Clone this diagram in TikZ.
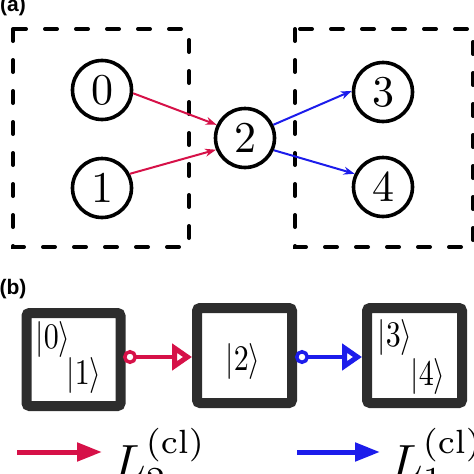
\documentclass[tikz,border=0pt]{standalone}
\usepackage{fontspec}
\usepackage{amsmath}
\usepackage{graphicx}
\newfontfamily\labelfont{Liberation Sans}
\usetikzlibrary{arrows.meta}
\definecolor{myred}{RGB}{214,17,72}
\definecolor{myblue}{RGB}{28,28,235}
\definecolor{boxgray}{RGB}{45,45,45}
\tikzset{
  statecircle/.style={circle,draw,line width=3.6pt,minimum size=59pt,inner sep=0pt},
  dashbox/.style={draw,line width=4pt,line cap=round,dash pattern=on 12pt off 19pt},
  statebox/.style={draw=boxgray,line width=10pt,rounded corners=3pt,inner sep=0pt},
  kettext/.style={inner sep=0pt},
  panellabel/.style={inner sep=0pt,font=\labelfont\bfseries\fontsize{21}{21}\selectfont},
  redarrow/.style={draw=myred,line width=2pt,-{Stealth[length=11pt,width=8pt]}},
  bluearrow/.style={draw=myblue,line width=2pt,-{Stealth[length=11pt,width=8pt]}},
  legendtext/.style={inner sep=0pt,anchor=base west},
  linkred/.style={draw=myred,line width=3.5pt,{Circle[open,length=14pt,line width=3.5pt]}-{Triangle[open,length=20pt,width=26pt,line width=5pt]}},
  linkblue/.style={draw=myblue,line width=3.5pt,{Circle[open,length=14pt,line width=3.5pt]}-{Triangle[open,length=20pt,width=26pt,line width=5pt]}}
}
\newcommand{\bigdigit}[1]{\scalebox{4.4}{$#1$}}
\newcommand{\myket}[1]{\scalebox{3.0}[3.6]{$|#1\rangle$}}
\newcommand{\legendL}[1]{\scalebox{4.8}{$L_{#1}^{(\mathrm{cl})}$}}
\begin{document}
\begin{tikzpicture}[x=1pt,y=-1pt]
\useasboundingbox (0,0) rectangle (474,474);
% panel (a)
\node[panellabel] (la) at (13,6) {(a)};
\draw[dashbox] (13,29) rectangle (189,247);
\draw[dashbox] (295,29) rectangle (473,247);
\node[statecircle] (c0) at (102,90) {\bigdigit{0}};
\node[statecircle] (c1) at (102,188) {\bigdigit{1}};
\node[statecircle] (c2) at (245,138) {\bigdigit{2}};
\node[statecircle] (c3) at (383,92) {\bigdigit{3}};
\node[statecircle] (c4) at (383,187) {\bigdigit{4}};
\draw[redarrow] (c0.-6) -- (c2.155);
\draw[redarrow] (c1.27) -- (c2.202);
\draw[bluearrow] (c2.25) -- (c3.178);
\draw[bluearrow] (c2.-23) -- (c4.155);
% panel (b)
\node[panellabel] (lb) at (13,289) {(b)};
\node[statebox,minimum width=94pt,minimum height=93pt] (b1) at (73.5,359.5) {};
\node[statebox,minimum width=95pt,minimum height=95pt] (b2) at (244.5,355.5) {};
\node[statebox,minimum width=95pt,minimum height=95pt] (b3) at (414.5,355.5) {};
\node[kettext] (k0) at (53,339) {\myket{0}};
\node[kettext] (k1) at (84,375) {\myket{1}};
\node[kettext] (k2) at (243,361) {\myket{2}};
\node[kettext] (k3) at (395,337) {\myket{3}};
\node[kettext] (k4) at (428,376) {\myket{4}};
\coordinate (r0) at (123,357);
\coordinate (bl0) at (295,357);
\draw[linkred] (r0) -- (b2.west |- r0);
\draw[linkblue] (bl0) -- (b3.west |- bl0);
% legend
\coordinate (lr0) at (17,452);
\coordinate (lr1) at (102,452);
\coordinate (lbl0) at (297,452);
\coordinate (lbl1) at (380,452);
\draw[draw=myred,line width=5pt,-{Triangle[length=25pt,width=18pt]}] (lr0) -- (lr1);
\draw[draw=myblue,line width=5pt,-{Triangle[length=25pt,width=18pt]}] (lbl0) -- (lbl1);
\node[legendtext] (t2) at (113,478) {\legendL{2}};
\node[legendtext] (t1) at (390,478) {\legendL{1}};
\end{tikzpicture}
\end{document}
